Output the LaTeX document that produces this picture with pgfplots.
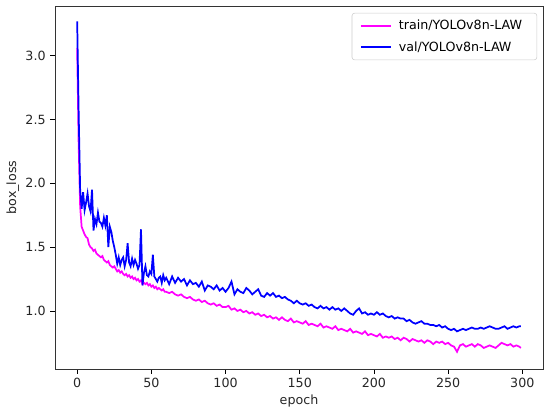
\documentclass[border=0pt]{standalone}
\usepackage{pgfplots}
\pgfplotsset{compat=1.18}
\usepackage{fontspec}
\setmainfont{DejaVu Sans}
\definecolor{mag}{RGB}{255,0,255}
\definecolor{blu}{RGB}{0,0,255}
\begin{document}
\begin{tikzpicture}[x=1pt,y=1pt]
\path[use as bounding box] (-41.25pt,-36pt) rectangle ++(412.5pt,312.75pt);
\begin{axis}[
  at={(0,0)}, anchor=south west,
  scale only axis, width=366pt, height=272.25pt,
  xmin=-14.95, xmax=313.95, ymin=0.545, ymax=3.39,
  xtick={0,50,...,300}, ytick={1.0,1.5,...,3.0},
  yticklabel style={/pgf/number format/.cd,fixed,fixed zerofill,precision=1},
  /pgf/number format/assume math mode=true,
  tick align=outside, tick pos=left,
  major tick length=3.5pt,
  tick style={black, line width=0.6pt},
  axis line style={black!80, line width=0.6pt},
  ticklabel style={font=\fontsize{9.5}{11}\selectfont, text=black!85},
  label style={font=\fontsize{9.5}{11}\selectfont, text=black!85},
  xlabel={epoch}, ylabel={box\_loss},
  xlabel style={yshift=2pt},
  ylabel style={yshift=-2pt},
  legend style={at={(rel axis cs:0.988,0.981)}, anchor=north east, draw=black!20, rounded corners=2pt, font=\fontsize{9.5}{11}\selectfont, row sep=3.6pt, inner xsep=6pt, inner ysep=3pt,
    nodes={inner xsep=5pt}},
  legend cell align=left,
  legend image code/.code={\draw[#1, line width=1.4pt] (0cm,0cm) -- (0.8cm,0cm);},
]
\addplot[mag, line width=1.3pt] coordinates {
(0,3.06)(1,2.30)(2,1.82)(3,1.66)(4,1.63)(5,1.60)(6,1.58)(7,1.57)(8,1.52)(9,1.50)
(10,1.49)(11,1.47)(12,1.48)(13,1.45)(14,1.44)(15,1.43)(16,1.42)(17,1.43)(18,1.40)(19,1.39)
(20,1.38)(21,1.39)(22,1.36)(23,1.35)(24,1.34)(25,1.35)(26,1.33)(27,1.31)(28,1.32)(29,1.30)
(30,1.31)(31,1.29)(32,1.28)(33,1.29)(34,1.27)(35,1.28)(36,1.26)(37,1.27)(38,1.25)(39,1.26)
(40,1.24)(41,1.25)(42,1.23)(43,1.24)(44,1.21)(45,1.22)(46,1.21)(47,1.22)(48,1.20)(49,1.21)
(50,1.19)(51,1.20)(52,1.18)(53,1.19)(54,1.17)(55,1.18)(56,1.17)(57,1.16)(58,1.17)(59,1.15)
(60,1.15)(62,1.14)(64,1.15)(66,1.13)(68,1.12)(70,1.13)(72,1.11)(74,1.10)(76,1.11)(78,1.09)
(80,1.08)(82,1.09)(84,1.07)(86,1.08)(88,1.06)(90,1.05)(92,1.06)(94,1.04)(96,1.05)(98,1.03)
(100,1.03)(102,1.04)(104,1.01)(106,1.02)(108,1.00)(110,1.01)(112,0.99)(114,1.00)(116,0.98)(118,0.99)
(120,0.97)(122,0.98)(124,0.96)(126,0.97)(128,0.95)(130,0.96)(132,0.94)(134,0.95)(136,0.93)(138,0.95)
(140,0.93)(142,0.92)(144,0.94)(146,0.91)(148,0.92)(150,0.91)(152,0.90)(154,0.92)(156,0.89)(158,0.90)
(160,0.89)(162,0.88)(164,0.90)(166,0.87)(168,0.88)(170,0.87)(172,0.86)(174,0.88)(176,0.85)(178,0.86)
(180,0.85)(182,0.84)(184,0.86)(186,0.83)(188,0.84)(190,0.83)(192,0.82)(194,0.84)(196,0.81)(198,0.82)
(200,0.81)(202,0.80)(204,0.82)(206,0.79)(208,0.80)(210,0.79)(212,0.80)(214,0.78)(216,0.79)(218,0.77)
(220,0.79)(222,0.78)(224,0.76)(226,0.78)(228,0.77)(230,0.76)(232,0.77)(234,0.75)(236,0.77)(238,0.76)
(240,0.74)(242,0.76)(244,0.75)(246,0.76)(248,0.74)(250,0.75)(252,0.73)(254,0.72)(256,0.68)(258,0.73)
(260,0.74)(262,0.72)(264,0.73)(266,0.74)(268,0.72)(270,0.74)(272,0.73)(274,0.71)(276,0.72)(278,0.73)
(280,0.72)(282,0.71)(284,0.73)(286,0.75)(288,0.74)(290,0.73)(292,0.74)(294,0.72)(296,0.73)(298,0.72)(299,0.71)
};
\addlegendentry{train/YOLOv8n-LAW}
\addplot[blu, line width=1.3pt] coordinates {
(0,3.27)(1,2.55)(2,1.95)(3,1.80)(4,1.93)(5,1.79)(6,1.85)(7,1.92)(8,1.82)(9,1.78)
(10,1.95)(11,1.63)(12,1.72)(13,1.68)(14,1.77)(15,1.70)(16,1.69)(17,1.66)(18,1.73)(19,1.67)
(20,1.75)(21,1.50)(22,1.66)(23,1.62)(24,1.55)(25,1.50)(26,1.44)(27,1.37)(28,1.42)(29,1.36)
(30,1.40)(31,1.42)(32,1.35)(33,1.40)(34,1.53)(35,1.38)(36,1.35)(37,1.41)(38,1.36)(39,1.40)
(40,1.37)(41,1.33)(42,1.36)(43,1.64)(44,1.20)(45,1.30)(46,1.35)(47,1.28)(48,1.27)(49,1.31)
(50,1.29)(51,1.44)(52,1.27)(53,1.25)(54,1.23)(55,1.26)(56,1.27)(57,1.22)(58,1.28)(59,1.24)
(60,1.26)(62,1.21)(64,1.27)(66,1.22)(68,1.26)(70,1.23)(72,1.25)(74,1.20)(76,1.24)(78,1.21)
(80,1.22)(82,1.19)(84,1.23)(86,1.16)(88,1.20)(90,1.19)(92,1.17)(94,1.20)(96,1.16)(98,1.18)
(100,1.15)(102,1.18)(104,1.23)(106,1.13)(108,1.17)(110,1.15)(112,1.14)(114,1.18)(116,1.16)(118,1.13)
(120,1.15)(122,1.17)(124,1.12)(126,1.11)(128,1.14)(130,1.12)(132,1.14)(134,1.11)(136,1.12)(138,1.10)
(140,1.11)(142,1.09)(144,1.08)(146,1.06)(148,1.08)(150,1.06)(152,1.05)(154,1.06)(156,1.04)(158,1.05)
(160,1.03)(162,1.02)(164,1.04)(166,1.02)(168,1.03)(170,1.01)(172,1.03)(174,1.01)(176,1.02)(178,1.00)
(180,1.02)(182,1.00)(184,0.98)(186,0.97)(188,1.00)(190,1.02)(192,0.98)(194,0.99)(196,0.97)(198,0.98)
(200,0.97)(202,0.99)(204,0.97)(206,0.98)(208,0.96)(210,0.95)(212,0.96)(214,0.94)(216,0.95)(218,0.94)
(220,0.94)(222,0.92)(224,0.93)(226,0.91)(228,0.90)(230,0.91)(232,0.92)(234,0.90)(236,0.90)(238,0.89)
(240,0.89)(242,0.88)(244,0.89)(246,0.87)(248,0.88)(250,0.86)(252,0.85)(254,0.86)(256,0.84)(258,0.85)
(260,0.86)(262,0.85)(264,0.86)(266,0.87)(268,0.86)(270,0.86)(272,0.87)(274,0.86)(276,0.87)(278,0.88)
(280,0.87)(282,0.86)(284,0.86)(286,0.87)(288,0.88)(290,0.86)(292,0.87)(294,0.88)(296,0.87)(298,0.88)(299,0.88)
};
\addlegendentry{val/YOLOv8n-LAW}
\end{axis}
\end{tikzpicture}
\end{document}
